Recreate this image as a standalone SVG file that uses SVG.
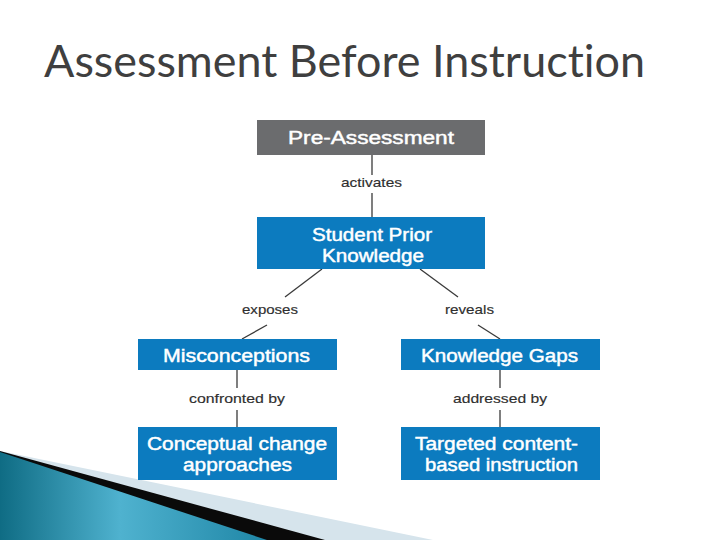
<svg xmlns="http://www.w3.org/2000/svg" width="720" height="540" viewBox="0 0 720 540">
  <defs>
    <linearGradient id="teal" x1="0" y1="0" x2="1" y2="0">
      <stop offset="0" stop-color="#0f6c84"/>
      <stop offset="0.45" stop-color="#4fb2cf"/>
      <stop offset="1" stop-color="#1f86a6"/>
    </linearGradient>
    <style>
      .box { fill: #0c7bbf; }
      .gray { fill: #6b6c6e; }
      .bt { font-family: "Liberation Sans", Arial, sans-serif; font-size: 18px; fill: #ffffff; stroke: #ffffff; stroke-width: 0.45; }
      .lb { font-family: "Liberation Sans", Arial, sans-serif; font-size: 13px; fill: #2f2f2f; stroke: #2f2f2f; stroke-width: 0.15; }
      .ln { stroke: #3a3a3a; stroke-width: 1.3; fill: none; }
      .title { font-family: Lato, "Open Sans", sans-serif; font-size: 44px; fill: #3f3f3f; font-variant-ligatures: none; font-feature-settings: "liga" 0; }
    </style>
  </defs>
  <rect width="720" height="540" fill="#ffffff"/>

  <g id="decoration">
    <polygon points="0,451 433,540 0,540" fill="#d6e4ec"/>
    <polygon points="0,451 325,540 0,540" fill="#0a0a0a"/>
    <polygon points="0,452 267,540 0,540" fill="url(#teal)"/>
  </g>

  <text id="title" class="title" x="44" y="77" textLength="601" lengthAdjust="spacingAndGlyphs">Assessment Before Instruction</text>

  <g id="connectors">
    <line class="ln" x1="372" y1="155" x2="372" y2="175"/>
    <line class="ln" x1="372" y1="193" x2="372" y2="217"/>
    <line class="ln" x1="322" y1="269" x2="285" y2="297"/>
    <line class="ln" x1="267" y1="325" x2="242" y2="339"/>
    <line class="ln" x1="420" y1="269" x2="458" y2="297"/>
    <line class="ln" x1="478" y1="325" x2="500" y2="339"/>
    <line class="ln" x1="237" y1="370" x2="237" y2="388"/>
    <line class="ln" x1="237" y1="410" x2="237" y2="427"/>
    <line class="ln" x1="500" y1="370" x2="500" y2="388"/>
    <line class="ln" x1="500" y1="410" x2="500" y2="427"/>
    <text class="lb" x="341" y="187" textLength="61" lengthAdjust="spacingAndGlyphs">activates</text>
    <text class="lb" x="242" y="314" textLength="56" lengthAdjust="spacingAndGlyphs">exposes</text>
    <text class="lb" x="445" y="314" textLength="49" lengthAdjust="spacingAndGlyphs">reveals</text>
    <text class="lb" x="189" y="403" textLength="96" lengthAdjust="spacingAndGlyphs">confronted by</text>
    <text class="lb" x="453" y="403" textLength="94" lengthAdjust="spacingAndGlyphs">addressed by</text>
  </g>

  <g id="pre-assessment">
    <rect class="gray" x="257" y="120" width="228" height="35"/>
    <text class="bt" x="288" y="144" textLength="166" lengthAdjust="spacingAndGlyphs">Pre-Assessment</text>
  </g>

  <g id="student-prior-knowledge">
    <rect class="box" x="257" y="217" width="228" height="52"/>
    <text class="bt" x="312" y="241" textLength="120" lengthAdjust="spacingAndGlyphs">Student Prior</text>
    <text class="bt" x="322" y="262" textLength="102" lengthAdjust="spacingAndGlyphs">Knowledge</text>
  </g>

  <g id="misconceptions">
    <rect class="box" x="138" y="339" width="199" height="31"/>
    <text class="bt" x="163" y="362" textLength="147" lengthAdjust="spacingAndGlyphs">Misconceptions</text>
  </g>

  <g id="knowledge-gaps">
    <rect class="box" x="401" y="339" width="199" height="31"/>
    <text class="bt" x="421" y="362" textLength="157" lengthAdjust="spacingAndGlyphs">Knowledge Gaps</text>
  </g>

  <g id="conceptual-change">
    <rect class="box" x="138" y="427" width="199" height="53"/>
    <text class="bt" x="147" y="450" textLength="180" lengthAdjust="spacingAndGlyphs">Conceptual change</text>
    <text class="bt" x="183" y="471" textLength="109" lengthAdjust="spacingAndGlyphs">approaches</text>
  </g>

  <g id="targeted-instruction">
    <rect class="box" x="401" y="427" width="199" height="53"/>
    <text class="bt" x="415" y="450" textLength="163" lengthAdjust="spacingAndGlyphs">Targeted content-</text>
    <text class="bt" x="425" y="471" textLength="153" lengthAdjust="spacingAndGlyphs">based instruction</text>
  </g>
</svg>
